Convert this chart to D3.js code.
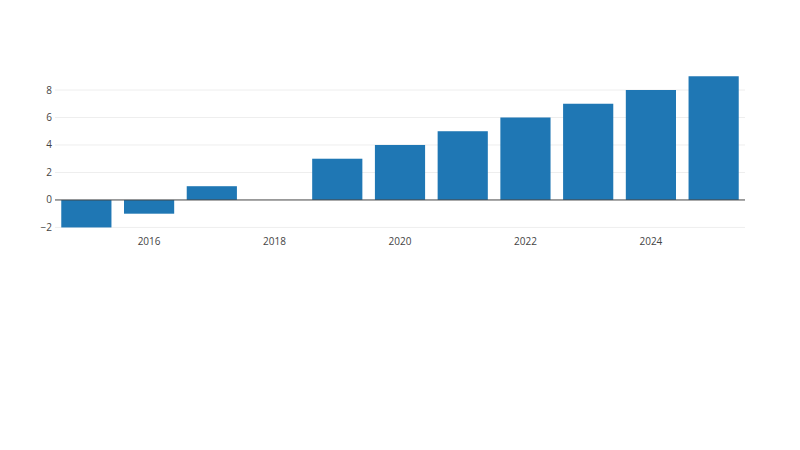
<!DOCTYPE html>
<html><head><meta charset="utf-8">
<script src="https://cdn.jsdelivr.net/npm/d3@7"></script>
<style>body{margin:0;background:#fff}svg{font-family:"Open Sans",sans-serif}</style>
</head><body><svg id="c" width="800" height="450"></svg>
<script>
const years = [2015,2016,2017,2018,2019,2020,2021,2022,2023,2024,2025];
const values = [-2,-1,1,0,3,4,5,6,7,8,9];
const yTicks = [-2,0,2,4,6,8];
const xTicks = [2016,2018,2020,2022,2024];

const svg = d3.select("#c");
const L=55, R=745, T=68.7, B=235;
const x = d3.scaleLinear().domain([2014.5,2025.5]).range([L,R]);
const y = d3.scaleLinear().domain([-2.55,9.55]).range([B,T]);
const bw = (x(1)-x(0))*0.8;

svg.append("g").selectAll("line").data(yTicks.filter(d=>d!==0)).join("line")
  .attr("x1",L).attr("x2",R).attr("y1",d=>y(d)).attr("y2",d=>y(d))
  .attr("stroke","#eee").attr("stroke-width",1);

svg.append("g").selectAll("rect").data(years).join("rect")
  .attr("x",(d)=>x(d)-bw/2).attr("width",bw)
  .attr("y",(d,i)=>y(Math.max(0,values[i])))
  .attr("height",(d,i)=>Math.abs(y(values[i])-y(0)))
  .attr("fill","#1f77b4");

svg.append("line").attr("x1",L).attr("x2",R).attr("y1",y(0)).attr("y2",y(0))
  .attr("stroke","#444").attr("stroke-width",1);

svg.append("g").selectAll("text").data(yTicks).join("text")
  .attr("x",L-3).attr("y",d=>y(d)).attr("dy","0.35em").attr("text-anchor","end")
  .attr("font-size",10).attr("fill","#444").text(d=>d<0?"\u2212"+(-d):d);

svg.append("g").selectAll("text").data(xTicks).join("text")
  .attr("x",d=>x(d)).attr("y",B+10).attr("text-anchor","middle")
  .attr("font-size",10).attr("fill","#444").text(d=>d);
</script></body></html>
